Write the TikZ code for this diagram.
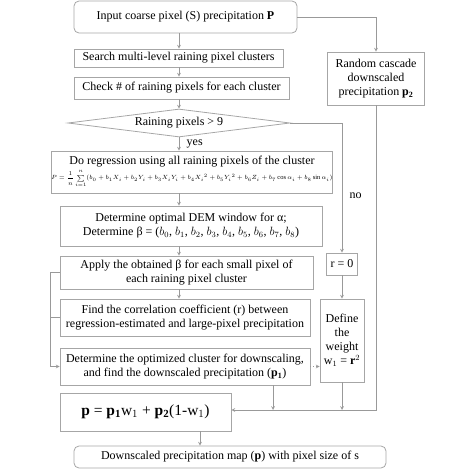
\documentclass[tikz,border=0pt]{standalone}
\usepackage{amsmath,amssymb}
\usepackage{fontspec}
\setmainfont{Liberation Serif}
\usepackage{tikz}
\usetikzlibrary{shapes.geometric, arrows}
\definecolor{linegray}{gray}{0.6}
\definecolor{boxgray}{gray}{0.65}
\tikzstyle{process} = [rectangle, inner sep=0pt, text centered, align=center, draw=boxgray, line width=0.8pt]
\tikzstyle{startstop} = [process, rounded corners=5pt]
\tikzstyle{decision} = [diamond, aspect=8, inner sep=0pt, text centered, draw=boxgray, line width=0.8pt]
\tikzstyle{arrow} = [draw=linegray, line width=0.7pt, ->, >=stealth]
\tikzstyle{line} = [draw=linegray, line width=0.7pt]

\begin{document}
\begin{tikzpicture}[x=1pt, y=-1pt, font=\fontsize{12}{14}\selectfont]
        \useasboundingbox (0,0) rectangle (474,474);

        % Nodes
        \node (input) [startstop, minimum width=223pt, minimum height=32pt] at (185.5,17) {Input coarse pixel (S) precipitation \textbf{\large P}};
        \node (search) [process, minimum width=209pt, minimum height=18pt] at (178.5,58) {Search multi-level raining pixel clusters};
        \node (check) [process, minimum width=215pt, minimum height=22pt] at (181.5,88) {Check \# of raining pixels for each cluster};
        \node (rain) [decision, minimum width=222pt, minimum height=28pt] at (179,123) {Raining pixels > 9};
        \node (random) [process, minimum width=97pt, minimum height=53pt] at (376,78.5) {Random cascade\\downscaled\\precipitation \textbf{p}$_\mathbf{2}$};
        \node (regress) [process, minimum width=272pt, minimum height=42pt] at (192,172) {Do regression using all raining pixels of the cluster\\[1pt]
            {\fontsize{6.5}{7}\selectfont $P=\dfrac{1}{n}\sum\limits_{\raisebox{-1pt}{$\scriptscriptstyle i=1$}}^{\raisebox{1pt}{$\scriptscriptstyle n$}}(b_0+b_1X_i+b_2Y_i+b_3X_iY_i+b_4{X_i}^{2}+b_5{Y_i}^{2}+b_6Z_i+b_7\cos\alpha_i+b_8\sin\alpha_i)$}};
        \node (dem) [process, minimum width=262pt, minimum height=40pt] at (191,226) {Determine optimal DEM window for α;\\Determine β = ($b_0$, $b_1$, $b_2$, $b_3$, $b_4$, $b_5$, $b_6$, $b_7$, $b_8$)};
        \node (rzero) [process, minimum width=31pt, minimum height=22pt] at (342,264) {r = 0};
        \node (apply) [process, minimum width=253pt, minimum height=33pt] at (186.5,272.5) {Apply the obtained β for each small pixel of\\each raining pixel cluster};
        \node (corr) [process, minimum width=250pt, minimum height=37pt] at (185,317.5) {Find the correlation coefficient (r) between\\regression-estimated and large-pixel precipitation};
        \node (weight) [process, minimum width=44pt, minimum height=83pt] at (342,340.5) {Define\\the\\weight\\w$_1$ = \textbf{r}$^2$};
        \node (optim) [process, minimum width=250pt, minimum height=37pt] at (185,366.5) {Determine the optimized cluster for downscaling,\\and find the downscaled precipitation (\textbf{p}$_\mathbf{1}$)};
        \node (merge) [process, minimum width=171pt, minimum height=38pt, font=\fontsize{15.5}{17}\selectfont] at (145.5,412) {\textbf{p} = \textbf{p}$_\mathbf{1}$w$_1$ + \textbf{p}$_\mathbf{2}$(1-w$_1$)};
        \node (final) [startstop, minimum width=312pt, minimum height=22pt] at (230,457) {Downscaled precipitation map (\textbf{\large p}) with pixel size of s};

        \coordinate (spine) at (179,0);
        \coordinate (loop) at (50,0);
        \coordinate (join) at (376,410);

        % Arrows
        \draw [arrow] (input.south -| spine) -- (search.north -| spine);
        \draw [arrow] (search.south -| spine) -- (check.north -| spine);
        \draw [arrow] (check.south -| spine) -- (rain.north);
        \draw [arrow] (rain.south) -- node[anchor=west, xshift=4pt] {yes} (regress.north -| rain.south);
        \draw [arrow] (regress.south -| spine) -- (dem.north -| spine);
        \draw [arrow] (dem.south -| spine) -- (apply.north -| spine);
        \draw [arrow] (apply.south -| spine) -- (corr.north -| spine);
        \draw [arrow] (input.east) -| (random.north);
        \draw [arrow] (rain.east) -| node[pos=0.78, anchor=west, xshift=4pt] {no} (rzero.north);
        \draw [arrow] (rzero.south) -- (weight.north);
        \draw [arrow] (apply.west) -- (apply.west -| loop) |- (optim.west);
        \draw [line] (corr.west) -- (corr.west -| loop);
        \draw [arrow, dotted] (optim.east) -- (optim.east -| weight.west);
        \draw [arrow] (optim.south -| 273,0) -- (join -| 273,0);
        \draw [arrow] (weight.south) -- (join -| weight.south);
        \draw [arrow] (random.south) -- (join) -- (merge.east |- join);
        \draw [arrow] (merge.south -| 200,0) -- (final.north -| 200,0);
    \end{tikzpicture}
\end{document}
